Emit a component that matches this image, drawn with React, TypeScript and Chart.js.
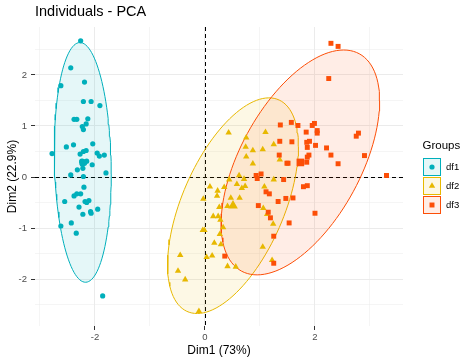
import React, { useEffect, useRef } from 'react';
import { Chart, registerables } from 'chart.js';

Chart.register(...registerables);

// ---------- data ----------
const groups = ['df1', 'df2', 'df3'];
const groupColors = ['#00AFBB', '#E7B800', '#FC4E07'];

const df1X = [-2.26, -2.44, -2.62, -2.19, -2.21, -2.07, -1.91, -2.38, -2.33, -2.13, -2.16, -2.23, -2.21, -2.52, -2.39, -2.04, -2.78, -2.27, -2.21, -2.16, -1.96, -1.92, -1.83, -2.24, -2.15, -2.23, -2.19, -2.05, -2.32, -2.22, -1.80, -2.44, -2.21, -2.20, -2.38, -2.33, -2.26, -2.55, -2.18, -2.11, -2.15, -2.29, -2.08, -2.07, -1.95, -2.22, -2.43, -2.62, -2.34, -1.86];
const df1Y = [2.67, 2.14, 1.79, 1.86, 1.48, 1.48, 1.40, 1.13, 1.13, 1.14, 1.04, 0.99, 0.93, 0.59, 0.63, 0.65, 0.46, 0.45, 0.50, 0.52, 0.47, 0.41, 0.43, 0.31, 0.31, 0.25, 0.27, 0.24, 0.14, 0.17, 0.08, 0.04, 0.01, -0.20, -0.37, -0.33, -0.33, -0.48, -0.48, -0.46, -0.50, -0.59, -0.68, -0.71, -0.63, -0.73, -0.90, -0.96, -1.10, -2.33];

const df2X = [0.43, 1.10, 0.75, 0.74, 0.87, 1.05, 1.25, 0.75, 0.87, 1.36, 0.62, 0.44, 0.71, 0.58, 0.73, 0.67, 0.35, 0.09, 0.23, 0.22, -0.03, 0.47, 0.63, 0.41, 0.26, 1.25, 1.08, 0.15, 0.24, 0.28, 1.06, 1.13, 1.24, -0.04, -0.01, 0.33, 0.27, 0.17, 0.29, -0.45, 0.03, 0.13, 0.41, 0.56, 1.05, 1.22, -0.49, -0.36, -0.11];
const df2Y = [0.87, 0.88, 0.77, 0.59, 0.52, 0.54, 0.64, 0.40, 0.26, 0.34, 0.03, -0.05, -0.04, -0.14, -0.18, -0.22, -0.20, -0.19, -0.27, -0.37, -0.43, -0.41, -0.41, -0.57, -0.59, -0.05, -0.19, -0.77, -0.77, -0.84, -0.61, -0.73, -0.92, -1.04, -1.04, -0.99, -1.12, -1.29, -1.32, -1.53, -1.57, -1.54, -1.75, -1.76, -1.37, -1.63, -1.84, -2.01, -2.63];

const df3X = [1.37, 1.36, 1.35, 1.49, 0.93, 1.02, 0.95, 1.43, 1.11, 1.17, 1.47, 1.33, 0.97, 1.15, 1.19, 1.53, 1.25, 0.36, 1.25, 2.29, 2.42, 2.25, 1.57, 1.69, 1.95, 1.99, 2.04, 2.04, 1.84, 2.75, 2.79, 1.58, 1.85, 1.90, 1.86, 2.01, 2.21, 1.89, 1.86, 2.29, 2.90, 1.51, 1.85, 2.42, 3.30, 1.79, 1.86, 1.60, 2.00];
const df3Y = [1.02, 0.70, 0.43, 0.27, 0.03, 0.06, -0.03, -0.05, -0.29, -0.33, -0.42, -0.48, -0.56, -0.69, -0.80, -0.90, -1.16, -1.55, -1.69, 2.62, 2.56, 1.93, 1.07, 1.01, 1.01, 1.05, 0.91, 0.86, 0.88, 0.80, 0.86, 0.69, 0.68, 0.70, 0.58, 0.62, 0.57, 0.43, 0.39, 0.43, 0.42, 0.27, 0.29, 0.26, 0.03, -0.19, -0.17, -0.41, -0.71];

const xTickValues = [-3, -2, -1, 0, 1, 2, 3];
const xLabelledTicks = [-2, 0, 2];
const yTickValues = [-2.5, -2, -1.5, -1, -0.5, 0, 0.5, 1, 1.5, 2, 2.5];
const yLabelledTicks = [-2, -1, 0, 1, 2];
const xRange = [-3.09, 3.6];
const yRange = [-2.92, 2.94];

const chartTitle = 'Individuals - PCA';
const xAxisTitle = 'Dim1 (73%)';
const yAxisTitle = 'Dim2 (22.9%)';
const legendTitle = 'Groups';
const ellipseLevel = 0.95;

// ---------- helpers ----------
const FONT = "'Liberation Sans', Arial, Helvetica, sans-serif";

function toPoints(xs: number[], ys: number[]) {
  return xs.map((x, i) => ({ x, y: ys[i] }));
}
function average(v: number[]) {
  return v.reduce((a, b) => a + b, 0) / v.length;
}
function withAlpha(hex: string, a: number) {
  const n = parseInt(hex.slice(1), 16);
  return `rgba(${(n >> 16) & 255},${(n >> 8) & 255},${n & 255},${a})`;
}
// normal-theory data ellipse (like ggplot2 stat_ellipse(type = "norm"))
function normalEllipse(xs: number[], ys: number[], level: number, segments = 120) {
  const n = xs.length;
  const mx = average(xs);
  const my = average(ys);
  let sxx = 0, syy = 0, sxy = 0;
  for (let i = 0; i < n; i++) {
    const dx = xs[i] - mx;
    const dy = ys[i] - my;
    sxx += dx * dx; syy += dy * dy; sxy += dx * dy;
  }
  sxx /= n - 1; syy /= n - 1; sxy /= n - 1;
  const dfd = n - 1;
  const qf = (dfd / 2) * (Math.pow(1 - level, -2 / dfd) - 1);
  const radius = Math.sqrt(2 * qf);
  const r11 = Math.sqrt(sxx);
  const r12 = sxy / r11;
  const r22 = Math.sqrt(Math.max(syy - r12 * r12, 0));
  const pts: { x: number; y: number }[] = [];
  for (let k = 0; k <= segments; k++) {
    const t = (2 * Math.PI * k) / segments;
    const c = Math.cos(t);
    const s = Math.sin(t);
    pts.push({ x: mx + radius * c * r11, y: my + radius * (c * r12 + s * r22) });
  }
  return pts;
}

const shapes = ['circle', 'triangle', 'rect'];
const pointRadii = [2.6, 3.7, 3.5];
const meanRadii = [3.6, 5.6, 5.4];

function drawMarker(ctx: CanvasRenderingContext2D, shape: string, x: number, y: number, r: number) {
  ctx.beginPath();
  if (shape === 'circle') {
    ctx.arc(x, y, r, 0, Math.PI * 2);
  } else if (shape === 'triangle') {
    ctx.moveTo(x, y - r);
    ctx.lineTo(x + r * 0.866, y + r * 0.5);
    ctx.lineTo(x - r * 0.866, y + r * 0.5);
    ctx.closePath();
  } else {
    const s = r * Math.SQRT1_2;
    ctx.rect(x - s, y - s, 2 * s, 2 * s);
  }
  ctx.fill();
}

const zeroLinesPlugin = {
  id: 'zeroLines',
  beforeDatasetsDraw(chart: any) {
    const { ctx, chartArea, scales } = chart;
    const x0 = scales.x.getPixelForValue(0);
    const y0 = scales.y.getPixelForValue(0);
    ctx.save();
    ctx.strokeStyle = '#000000';
    ctx.lineWidth = 1;
    ctx.setLineDash([4, 3]);
    ctx.beginPath();
    ctx.moveTo(Math.round(x0) + 0.5, chartArea.top);
    ctx.lineTo(Math.round(x0) + 0.5, chartArea.bottom);
    ctx.moveTo(chartArea.left, Math.round(y0) + 0.5);
    ctx.lineTo(chartArea.right, Math.round(y0) + 0.5);
    ctx.stroke();
    ctx.restore();
  },
};

const legendPlugin = {
  id: 'groupLegend',
  afterDraw(chart: any) {
    const { ctx } = chart;
    const left = 423;
    const titleY = 146;
    const firstY = 166.5;
    const step = 19;
    const box = 17;
    ctx.save();
    ctx.textBaseline = 'middle';
    ctx.textAlign = 'left';
    ctx.fillStyle = '#000000';
    ctx.font = `11.5px ${FONT}`;
    ctx.fillText(legendTitle, left - 0.5, titleY);
    groups.forEach((g, i) => {
      const cy = firstY + i * step;
      ctx.fillStyle = '#ffffff';
      ctx.fillRect(left, cy - box / 2, box, box);
      ctx.fillStyle = withAlpha(groupColors[i], 0.1);
      ctx.fillRect(left, cy - box / 2, box, box);
      ctx.strokeStyle = groupColors[i];
      ctx.lineWidth = 1;
      ctx.strokeRect(left + 0.5, Math.round(cy - box / 2) + 0.5, box, box);
      ctx.fillStyle = groupColors[i];
      drawMarker(ctx, shapes[i], left + box / 2 + 0.5, cy + 0.5, pointRadii[i]);
      ctx.fillStyle = '#000000';
      ctx.font = `9.5px ${FONT}`;
      ctx.fillText(g, left + 23, cy + 1);
    });
    ctx.restore();
  },
};

export default function App() {
  const canvasRef = useRef<HTMLCanvasElement>(null);

  useEffect(() => {
    if (!canvasRef.current) return;
    const groupData = [
      [df1X, df1Y],
      [df2X, df2Y],
      [df3X, df3Y],
    ];
    const datasets: any[] = [];
    groupData.forEach(([xs, ys], g) => {
      datasets.push({
        label: `${groups[g]} ellipse`,
        data: normalEllipse(xs, ys, ellipseLevel),
        showLine: true,
        fill: 'shape',
        borderColor: groupColors[g],
        backgroundColor: withAlpha(groupColors[g], 0.1),
        borderWidth: 1,
        pointRadius: 0,
        pointHoverRadius: 0,
        pointHitRadius: 0,
        tension: 0,
        order: 30 - g,
      });
      datasets.push({
        label: groups[g],
        data: toPoints(xs, ys),
        pointStyle: shapes[g],
        pointRadius: pointRadii[g],
        pointHoverRadius: pointRadii[g],
        backgroundColor: groupColors[g],
        borderColor: groupColors[g],
        borderWidth: 0,
        order: 20 - g,
      });
      datasets.push({
        label: `${groups[g]} mean`,
        data: [{ x: average(xs), y: average(ys) }],
        pointStyle: shapes[g],
        pointRadius: meanRadii[g],
        pointHoverRadius: meanRadii[g],
        backgroundColor: groupColors[g],
        borderColor: groupColors[g],
        borderWidth: 0,
        order: 10 - g,
      });
    });

    const chart = new Chart(canvasRef.current, {
      type: 'scatter',
      data: { datasets },
      options: {
        animation: false,
        responsive: false,
        events: [],
        layout: { padding: { left: 0, right: 71, top: 0, bottom: 0 } },
        plugins: {
          legend: { display: false },
          tooltip: { enabled: false },
          title: {
            display: true,
            text: chartTitle,
            align: 'start',
            fullSize: false,
            color: '#000000',
            font: { family: FONT, size: 14.5, weight: 'normal' },
            padding: { top: 3.6, bottom: 6 },
          },
        },
        scales: {
          x: {
            type: 'linear',
            min: xRange[0],
            max: xRange[1],
            afterBuildTicks: (scale: any) => {
              scale.ticks = xTickValues.map((v) => ({ value: v }));
            },
            afterFit: (scale: any) => {
              scale.height = 37;
            },
            border: { display: false },
            grid: {
              color: '#EBEBEB',
              lineWidth: (c: any) => (xLabelledTicks.includes(c.tick?.value) ? 1 : 0.5),
              drawTicks: true,
              tickLength: 4,
              tickWidth: 1,
              tickColor: (c: any) => (xLabelledTicks.includes(c.tick?.value) ? '#333333' : 'rgba(0,0,0,0)'),
            },
            ticks: {
              autoSkip: false,
              maxRotation: 0,
              padding: 1.5,
              color: '#4D4D4D',
              font: { family: FONT, size: 9.5 },
              callback: (v: any) => (xLabelledTicks.includes(Number(v)) ? String(v) : ''),
            },
            title: {
              display: true,
              text: xAxisTitle,
              color: '#000000',
              font: { family: FONT, size: 12 },
              padding: { top: 0, bottom: 5.3 },
            },
          },
          y: {
            type: 'linear',
            min: yRange[0],
            max: yRange[1],
            afterBuildTicks: (scale: any) => {
              scale.ticks = yTickValues.map((v) => ({ value: v }));
            },
            afterFit: (scale: any) => {
              scale.width = 35;
            },
            border: { display: false },
            grid: {
              color: '#EBEBEB',
              lineWidth: (c: any) => (yLabelledTicks.includes(c.tick?.value) ? 1 : 0.5),
              drawTicks: true,
              tickLength: 4,
              tickWidth: 1,
              tickColor: (c: any) => (yLabelledTicks.includes(c.tick?.value) ? '#333333' : 'rgba(0,0,0,0)'),
            },
            ticks: {
              autoSkip: false,
              padding: 4,
              color: '#4D4D4D',
              font: { family: FONT, size: 9.5 },
              callback: (v: any) => (yLabelledTicks.includes(Number(v)) ? String(v) : ''),
            },
            title: {
              display: true,
              text: yAxisTitle,
              color: '#000000',
              font: { family: FONT, size: 12 },
              padding: { top: 5.6, bottom: 0 },
            },
          },
        },
      } as any,
      plugins: [zeroLinesPlugin, legendPlugin],
    });
    return () => chart.destroy();
  }, []);

  return (
    <div style={{ position: 'fixed', left: 0, top: 0, width: 474, height: 363, background: '#ffffff' }}>
      <canvas ref={canvasRef} width={474} height={363} style={{ display: 'block', width: 474, height: 363 }} />
    </div>
  );
}
